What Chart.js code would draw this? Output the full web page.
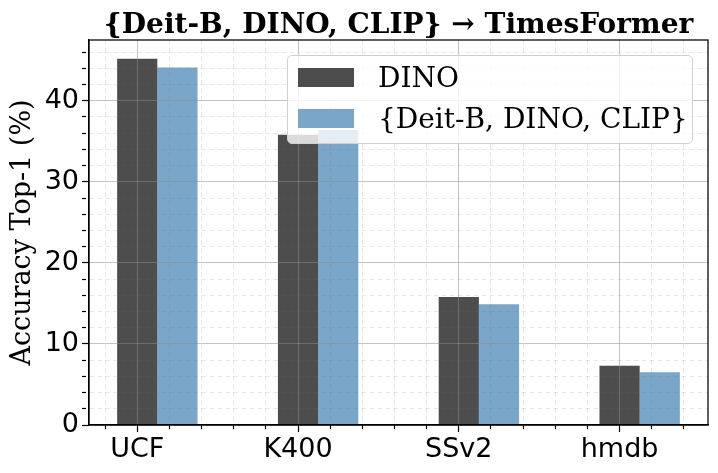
<!DOCTYPE html>
<html>
<head>
<meta charset="utf-8">
<script src="https://cdn.jsdelivr.net/npm/chart.js@4.4.1/dist/chart.umd.min.js"></script>
<style>
    body { margin: 0; background: #fff; }
    #wrap { position: relative; width: 718px; height: 473px; }
    #legend {
        position: absolute; left: 287px; top: 55px; width: 404px; height: 87px;
        background: rgba(255, 255, 255, 0.8); border: 1px solid #d0d0d0; border-radius: 5px;
        font-family: "DejaVu Serif", serif; font-size: 28px; color: #000;
    }
    .legend-item { position: absolute; left: 10px; height: 34px; display: flex; align-items: center; white-space: nowrap; }
    .legend-color { width: 56px; height: 19px; margin-right: 24px; }
</style>
</head>
<body>
<div id="wrap">
    <canvas id="barChart" width="718" height="473"></canvas>
    <div id="legend"></div>
</div>
<script>
const categories = ['UCF', 'K400', 'SSv2', 'hmdb'];
const seriesNames = ['DINO', '{Deit-B, DINO, CLIP}'];
const dinoValues = [45.2, 35.8, 15.8, 7.3];
const mixValues = [44.1, 36.4, 14.9, 6.5];
const yTicks = [0, 10, 20, 30, 40];

const colors = ['#4d4d4d', '#7aa6c9'];
const barWidth = 0.25;
const xMinorStep = 0.2;

const majorGrid = 'rgba(140,140,140,0.52)';
const minorGrid = 'rgba(110,110,110,0.16)';

function isWhole(v) {
    return Math.abs(v - Math.round(v)) < 1e-6;
}

const serif = '"DejaVu Serif", serif';
const sans = '"DejaVu Sans", sans-serif';

// top/right spines like matplotlib
const frame = {
    id: 'frame',
    afterDraw(chart) {
        const a = chart.chartArea;
        const c = chart.ctx;
        c.save();
        c.setLineDash([]);
        c.strokeStyle = '#000';
        c.lineWidth = 1.25;
        c.strokeRect(a.left, a.top, a.right - a.left, a.bottom - a.top);
        c.restore();
    }
};

// chart.js measures bar room from the closest tick spacing (the minor step here),
// so scale the bar up to the wanted width in x units
const barOpts = { grouped: false, categoryPercentage: 1, barPercentage: barWidth / xMinorStep };

const ctx = document.getElementById('barChart').getContext('2d');
const chart = new Chart(ctx, {
    type: 'bar',
    data: {
        datasets: [
            Object.assign({
                label: seriesNames[0],
                data: categories.map((c, i) => ({ x: i, y: dinoValues[i] })),
                backgroundColor: colors[0]
            }, barOpts),
            Object.assign({
                label: seriesNames[1],
                data: categories.map((c, i) => ({ x: i + barWidth, y: mixValues[i] })),
                backgroundColor: colors[1]
            }, barOpts)
        ]
    },
    options: {
        responsive: false,
        animation: false,
        layout: { padding: { left: 0, right: 10, top: 0, bottom: 0 } },
        plugins: {
            legend: { display: false },
            tooltip: { enabled: false },
            title: {
                display: true,
                fullSize: false,
                text: '{Deit-B, DINO, CLIP} \u2192 TimesFormer',
                color: '#000',
                font: { family: serif, size: 28, weight: 'bold', lineHeight: 1 },
                padding: { top: 12, bottom: 0 }
            }
        },
        scales: {
            x: {
                type: 'linear',
                offset: false,
                min: -0.3,
                max: 3.55,
                afterFit(scale) { scale.height = 48; },
                ticks: {
                    stepSize: xMinorStep,
                    includeBounds: false,
                    autoSkip: false,
                    maxRotation: 0,
                    padding: 2,
                    color: '#000',
                    font: { family: sans, size: 27 },
                    callback: v => isWhole(v) && categories[Math.round(v)] !== undefined ? categories[Math.round(v)] : ''
                },
                grid: {
                    z: 1,
                    offset: false,
                    color: c => c.tick && isWhole(c.tick.value) ? majorGrid : minorGrid,
                    lineWidth: 1,
                    tickLength: 7,
                    tickColor: '#000',
                    tickWidth: 1.2,
                    tickBorderDash: c => c.tick && isWhole(c.tick.value) ? [] : [4, 100]
                },
                border: {
                    z: 2,
                    color: '#000',
                    width: 1.25,
                    dash: c => c.tick && !isWhole(c.tick.value) ? [5, 3] : []
                }
            },
            y: {
                min: 0,
                max: 47.5,
                afterFit(scale) { scale.width = 89; },
                ticks: {
                    stepSize: 2,
                    includeBounds: false,
                    autoSkip: false,
                    padding: 3,
                    color: '#000',
                    font: { family: sans, size: 27 },
                    callback: v => yTicks.includes(v) ? String(v) : ''
                },
                title: {
                    display: true,
                    text: 'Accuracy Top-1 (%)',
                    color: '#000',
                    font: { family: serif, size: 27 },
                    padding: { top: 7, bottom: 0 }
                },
                grid: {
                    z: 1,
                    color: c => c.tick && c.tick.value % 10 === 0 ? majorGrid : minorGrid,
                    lineWidth: 1,
                    tickLength: 7,
                    tickColor: '#000',
                    tickWidth: 1.2,
                    tickBorderDash: c => c.tick && c.tick.value % 10 === 0 ? [] : [4, 100]
                },
                border: {
                    z: 2,
                    color: '#000',
                    width: 1.25,
                    dash: c => c.tick && c.tick.value % 10 !== 0 ? [5, 3] : []
                }
            }
        }
    },
    plugins: [frame]
});

// legend box inside the plot, like matplotlib's
const legendContainer = document.getElementById('legend');
chart.data.datasets.forEach((ds, index) => {
    const legendItem = document.createElement('div');
    legendItem.classList.add('legend-item');
    legendItem.style.top = (4 + index * 41) + 'px';

    const colorBox = document.createElement('div');
    colorBox.classList.add('legend-color');
    colorBox.style.backgroundColor = ds.backgroundColor;

    const labelText = document.createElement('span');
    labelText.textContent = ds.label;

    legendItem.appendChild(colorBox);
    legendItem.appendChild(labelText);
    legendContainer.appendChild(legendItem);
});
</script>
</body>
</html>
